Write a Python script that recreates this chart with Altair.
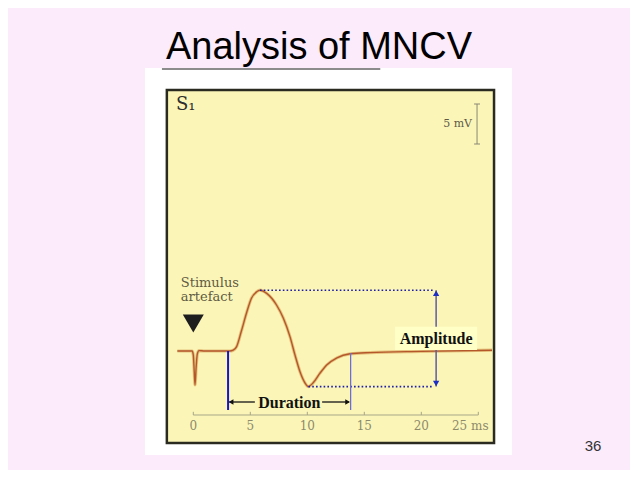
import altair as alt
import pandas as pd

# ---- data ----
trace_ms = [-1.4, -0.1, 0.0, 0.08, 0.15, 0.25, 0.35, 0.5, 1.0, 3.2, 3.5, 3.8, 4.2, 4.7,
            5.1, 5.56, 5.85, 6.44, 7.3, 7.9, 8.48, 8.92, 9.36, 9.8, 10.1, 10.5, 11.1,
            11.7, 12.6, 13.75, 15.5, 20.0, 26.2]
trace_mv = [0.0, 0.0, -0.5, -2.5, -4.25, -2.0, -0.4, 0.05, 0.0, 0.0, 0.1, 0.55, 2.4, 4.9,
            6.6, 7.4, 7.6, 7.2, 5.75, 4.1, 1.8, -0.5, -2.6, -4.0, -4.45, -4.0, -2.8,
            -1.75, -0.85, -0.35, -0.2, -0.05, 0.1]
tick_values = [0, 5, 10, 15, 20, 25]
tick_labels = ["0", "5", "10", "15", "20", "25 ms"]
duration_ms = [3.05, 13.8]          # onset / return to baseline
amplitude_at_ms = 21.3              # where the amplitude arrow stands
scale_bar_mv = 5

title_text = "Analysis of MNCV"
page_number = "36"

# ---- derived ----
trace = pd.DataFrame({"t": trace_ms, "v": trace_mv})
ticks = pd.DataFrame({"t": tick_values, "label": tick_labels})
i_peak = trace_mv.index(max(trace_mv))
i_trough = trace_mv.index(min(trace_mv))
peak_t, peak_v = trace_ms[i_peak], trace_mv[i_peak]
trough_t, trough_v = trace_ms[i_trough], trace_mv[i_trough]
one = pd.DataFrame({"k": [0]})

XS = alt.Scale(domain=[0, 25], range=[185.3, 470.3], nice=False, zero=False)
YS = alt.Scale(domain=[0, 5], range=[284, 244], nice=False, zero=False)


def X(v):
    return alt.XDatum(v, scale=XS, axis=None)


def Y(v):
    return alt.YDatum(v, scale=YS, axis=None)


def Xf(f):
    return alt.X(f, type="quantitative", scale=XS, axis=None)


def Yf(f):
    return alt.Y(f, type="quantitative", scale=YS, axis=None)


base = alt.Chart(one)

white_box = base.mark_rect(color="#ffffff").encode(
    x=X(-4.24), x2=alt.X2Datum(27.96), y=Y(35.375), y2=alt.Y2Datum(-13.0))
top_line = base.mark_rule(color="#4a4a4a", strokeWidth=1.5, opacity=0.85).encode(
    x=X(-2.75), x2=alt.X2Datum(16.4), y=Y(35.25))
panel = base.mark_rect(color="#fbf6b8", stroke="#2a2a20", strokeWidth=2.5).encode(
    x=X(-2.32), x2=alt.X2Datum(26.38), y=Y(32.625), y2=alt.Y2Datum(-11.5))

# time axis drawn inside the panel
AX_V = -8.0
axis_line = base.mark_rule(color="#a8a588", strokeWidth=1).encode(
    x=X(tick_values[0]), x2=alt.X2Datum(tick_values[-1]), y=Y(AX_V))
axis_ticks = alt.Chart(ticks).mark_rule(color="#a8a588", strokeWidth=1).encode(
    x=Xf("t"), y=Y(AX_V), y2=alt.Y2Datum(AX_V + 0.4))
axis_labels = alt.Chart(ticks).transform_filter(f"datum.t < {tick_values[-1]}").mark_text(
    font="DejaVu Serif", fontSize=12, color="#8d8a6c", align="center", baseline="middle").encode(
    x=Xf("t"), y=Y(-9.375), text="label:N")
axis_last = alt.Chart(ticks).transform_filter(f"datum.t == {tick_values[-1]}").mark_text(
    font="DejaVu Serif", fontSize=12, color="#8d8a6c", align="center", baseline="middle", dx=-8).encode(
    x=Xf("t"), y=Y(-9.375), text="label:N")

halo = alt.Chart(trace).mark_line(color="#e6c27c", strokeWidth=3.2, interpolate="monotone").encode(
    x=Xf("t"), y=Yf("v"), order="t:Q")
core = alt.Chart(trace).mark_line(color="#b4582c", strokeWidth=1.4, interpolate="monotone").encode(
    x=Xf("t"), y=Yf("v"), order="t:Q")

dots_df = pd.DataFrame({"t": [peak_t, trough_t], "t2": [amplitude_at_ms - 0.3] * 2,
                        "v": [peak_v, trough_v]})
dots = alt.Chart(dots_df).mark_rule(color="#1c1ca8", strokeWidth=1.6, strokeDash=[1.6, 2.2]).encode(
    x=Xf("t"), x2="t2:Q", y=Yf("v"))

amp_line = base.mark_rule(color="#5d5da4", strokeWidth=1.5).encode(
    x=X(amplitude_at_ms), y=Y(peak_v), y2=alt.Y2Datum(trough_v))
amp_up = base.mark_point(shape="triangle-up", filled=True, size=40, color="#1d2ec4", opacity=1,
                         yOffset=3).encode(x=X(amplitude_at_ms), y=Y(peak_v))
amp_down = base.mark_point(shape="triangle-down", filled=True, size=40, color="#1d2ec4", opacity=1,
                           yOffset=-3).encode(x=X(amplitude_at_ms), y=Y(trough_v))
amp_box = base.mark_rect(color="#ffffc6").encode(
    x=X(17.69), x2=alt.X2Datum(24.89), y=Y(3.04), y2=alt.Y2Datum(0.125))
amp_text = base.mark_text(text="Amplitude", font="Liberation Serif", fontSize=16, fontWeight="bold",
                          color="#111111", align="center", baseline="middle").encode(
    x=X(amplitude_at_ms), y=Y(1.5))

dur_left = base.mark_rule(color="#1414cc", strokeWidth=2).encode(
    x=X(duration_ms[0]), y=Y(0), y2=alt.Y2Datum(-7.375))
dur_right = base.mark_rule(color="#6c6ed8", strokeWidth=1.3).encode(
    x=X(duration_ms[1]), y=Y(-0.25), y2=alt.Y2Datum(-7.375))
arr_df = pd.DataFrame({"a": [duration_ms[0] + 0.1, 11.3], "b": [5.4, duration_ms[1] - 0.15]})
dur_arrows = alt.Chart(arr_df).mark_rule(color="#111111", strokeWidth=1.3).encode(
    x=Xf("a"), x2="b:Q", y=Y(-6.375))
head_l = base.mark_point(shape="triangle-left", filled=True, size=30, color="#111111", opacity=1,
                         xOffset=3).encode(x=X(duration_ms[0]), y=Y(-6.375))
head_r = base.mark_point(shape="triangle-right", filled=True, size=30, color="#111111", opacity=1,
                         xOffset=-3).encode(x=X(duration_ms[1]), y=Y(-6.375))
dur_text = base.mark_text(text="Duration", font="Liberation Serif", fontSize=16, fontWeight="bold",
                          color="#111111", align="center", baseline="middle").encode(
    x=X((duration_ms[0] + duration_ms[1]) / 2), y=Y(-6.5))

stim_text = base.mark_text(text=["Stimulus", "artefact"], font="DejaVu Serif", fontSize=13,
                           lineHeight=14, color="#5f5b42", align="left", baseline="top").encode(
    x=X(-1.1), y=Y(9.3))
stim_tri = base.mark_point(shape="triangle-down", filled=True, size=441, color="#1e1e1e",
                           opacity=1).encode(x=X(0), y=Y(3.44))

s1 = base.mark_text(text="S₁", font="DejaVu Serif", fontSize=18, color="#2e2e2e",
                    align="left", baseline="middle").encode(x=X(-1.52), y=Y(30.75))
bar_df = pd.DataFrame({"lo": [25.875], "hi": [25.875 + scale_bar_mv]})
bar = alt.Chart(bar_df).mark_rule(color="#8a8672", strokeWidth=1).encode(
    x=X(24.89), y=Yf("lo"), y2="hi:Q")
caps_df = pd.DataFrame({"v": [25.875, 25.875 + scale_bar_mv]})
caps = alt.Chart(caps_df).mark_rule(color="#8a8672", strokeWidth=1).encode(
    x=X(24.63), x2=alt.X2Datum(25.15), y=Yf("v"))
bar_text = base.mark_text(text=f"{scale_bar_mv} mV", font="DejaVu Serif", fontSize=11,
                          color="#5e5a48", align="right", baseline="middle").encode(
    x=X(24.45), y=Y(25.875 + scale_bar_mv / 2))

page_num = base.mark_text(text=page_number, font="Liberation Sans", fontSize=15, color="#333333",
                          align="center", baseline="middle").encode(x=X(35.06), y=Y(-11.875))

chart = alt.layer(
    white_box, top_line, panel, axis_line, axis_ticks, axis_labels, axis_last,
    halo, core, dots, amp_line, amp_up, amp_down, amp_box, amp_text,
    dur_left, dur_right, dur_arrows, head_l, head_r, dur_text, stim_text, stim_tri, s1,
    bar, caps, bar_text, page_num,
).properties(
    width=622, height=403,
    padding={"top": 21, "left": 0, "right": 0, "bottom": 0},
    background="#fbebfb",
    title=alt.TitleParams(title_text, font="Liberation Sans", fontSize=38, fontWeight="normal",
                          color="#000000", anchor="middle", frame="group", offset=0),
).configure_view(stroke=None)

chart.save("out.html", embed_options={"renderer": "svg", "actions": False})
